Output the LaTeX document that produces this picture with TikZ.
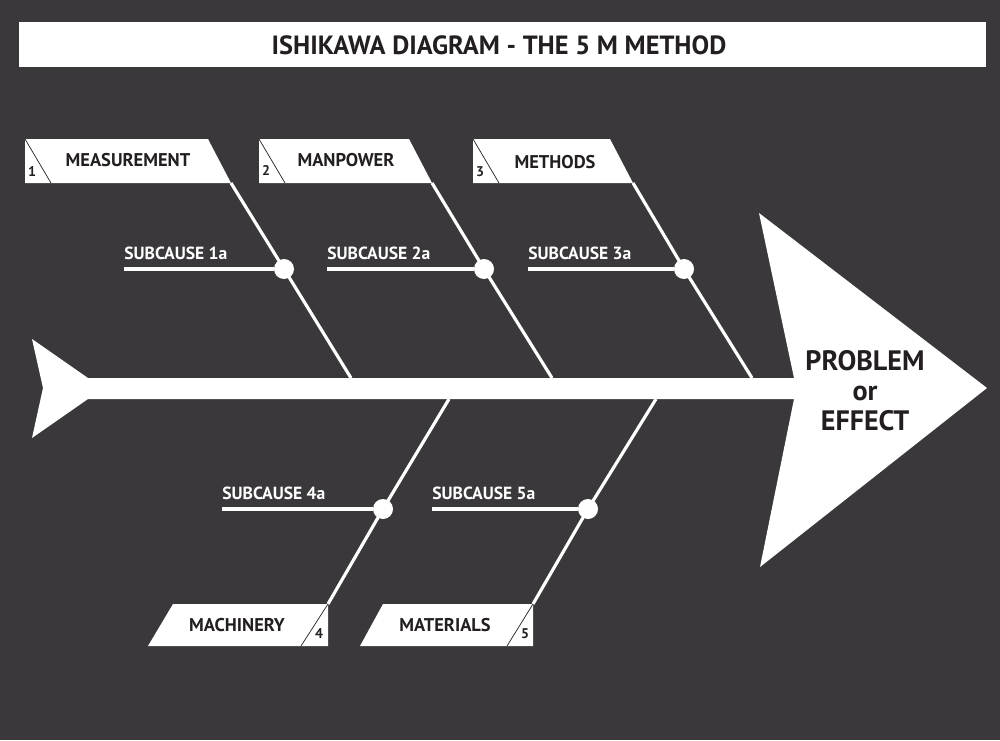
\documentclass[tikz,border=0pt]{standalone}
\usepackage{fontspec}
\setmainfont{PT Sans}
\usepackage{tikz}
\usepackage{xcolor}
\usetikzlibrary{
    calc,
    positioning
}
\definecolor{board}{HTML}{3A383B}
\definecolor{ink}{HTML}{231F20}

\begin{document}
\begin{tikzpicture}[x=0.02cm, y=-0.02cm,
                        bone/.style={white, line width=1.8pt},
                        joint/.style={circle, fill=white, inner sep=0pt, minimum size=0.4cm},
                        cause/.style={font=\bfseries\fontsize{10.5}{12}\selectfont, text=ink},
                        sub/.style={font=\bfseries\fontsize{10}{12}\selectfont, text=white, anchor=west, inner sep=0pt},
                        num/.style={font=\bfseries\fontsize{8}{9}\selectfont, text=ink, inner sep=0pt}]
                        \useasboundingbox (0, 0) rectangle (1000, 740);
                        \fill[board] (0, 0) rectangle (1000, 740);
                        \fill[white] (19, 22) rectangle (986, 67);
                        \node[font=\bfseries\fontsize{15}{17}\selectfont, text=ink] (title) at (499, 45) {ISHIKAWA DIAGRAM - THE 5 M METHOD};
                        \fill[white] (32, 339) -- (88, 378) -- (794, 378) -- (759, 213) -- (987, 388) -- (760, 567) -- (794, 399) -- (88, 399) -- (32, 438) -- (43, 388) -- cycle;
                        \node[font=\bfseries\fontsize{16}{17}\selectfont, text=ink, align=center] (effect) at (865, 391) {PROBLEM\\or\\EFFECT};
                        \coordinate (b1) at (351, 378);
                        \coordinate (b2) at (552, 378);
                        \coordinate (b3) at (752, 378);
                        \coordinate (b4) at (449, 399);
                        \coordinate (b5) at (656, 399);
                        \coordinate (c1) at (231, 183);
                        \coordinate (c2) at (432, 183);
                        \coordinate (c3) at (633, 183);
                        \coordinate (c4) at (328, 604);
                        \coordinate (c5) at (533, 604);
                        \fill[white] (25, 139) -- (208, 139) -- (c1) -- (25, 183) -- cycle;
                        \fill[white] (259, 139) -- (409, 139) -- (c2) -- (259, 183) -- cycle;
                        \fill[white] (473, 139) -- (610, 139) -- (c3) -- (473, 183) -- cycle;
                        \fill[white] (173, 604) -- (c4) -- (328, 646) -- (148, 646) -- cycle;
                        \fill[white] (383, 604) -- (c5) -- (533, 646) -- (360, 646) -- cycle;
                        \draw[ink, thin] (25, 139) -- (51, 183);
                        \draw[ink, thin] (259, 139) -- (285, 183);
                        \draw[ink, thin] (473, 139) -- (499, 183);
                        \draw[ink, thin] (301, 646) -- (c4);
                        \draw[ink, thin] (507, 646) -- (c5);
                        \node[cause] (measurement) at (128, 160) {MEASUREMENT};
                        \node[cause] (manpower) at (346, 160) {MANPOWER};
                        \node[cause] (methods) at (555, 162) {METHODS};
                        \node[cause] (machinery) at (237, 625) {MACHINERY};
                        \node[cause] (materials) at (445, 625) {MATERIALS};
                        \node[num] (n1) at (32, 171) {1};
                        \node[num] (n2) at (266, 170) {2};
                        \node[num] (n3) at (480, 172) {3};
                        \node[num] (n4) at (319, 634) {4};
                        \node[num] (n5) at (525, 634) {5};
                        \node[joint] (j1) at (284, 269) {};
                        \node[joint] (j2) at (484, 269) {};
                        \node[joint] (j3) at (684, 269) {};
                        \node[joint] (j4) at (383, 509) {};
                        \node[joint] (j5) at (588, 509) {};
                        \node[sub] (s1) at (124, 253) {SUBCAUSE 1a};
                        \node[sub] (s2) at (327, 253) {SUBCAUSE 2a};
                        \node[sub] (s3) at (528, 253) {SUBCAUSE 3a};
                        \node[sub] (s4) at (222, 493) {SUBCAUSE 4a};
                        \node[sub] (s5) at (432, 493) {SUBCAUSE 5a};
                        \draw[bone] (c1) -- (j1.center) -- (b1);
                        \draw[bone] (c2) -- (j2.center) -- (b2);
                        \draw[bone] (c3) -- (j3.center) -- (b3);
                        \draw[bone] (c4) -- (j4.center) -- (b4);
                        \draw[bone] (c5) -- (j5.center) -- (b5);
                        \draw[bone] (s1.west |- j1) -- (j1);
                        \draw[bone] (s2.west |- j2) -- (j2);
                        \draw[bone] (s3.west |- j3) -- (j3);
                        \draw[bone] (s4.west |- j4) -- (j4);
                        \draw[bone] (s5.west |- j5) -- (j5);
                    \end{tikzpicture}
\end{document}
